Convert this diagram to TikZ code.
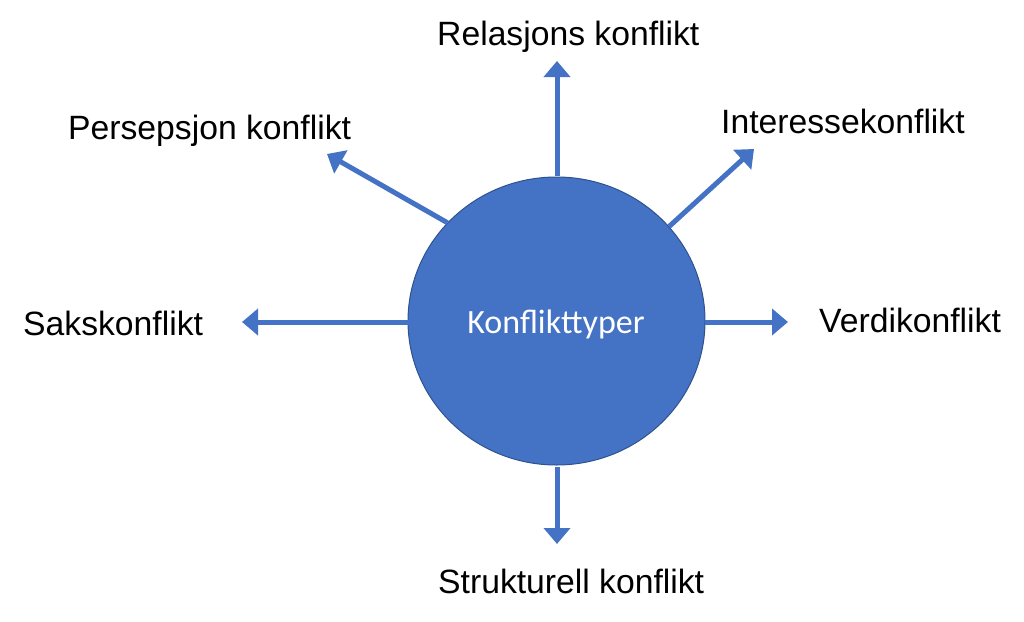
\documentclass[tikz,border=0pt]{standalone}
\usepackage{fontspec}
\setmainfont{Liberation Sans}
\newfontfamily\calfont{Carlito}
\usetikzlibrary{arrows.meta,shapes.geometric}
\definecolor{offblue}{HTML}{4472C4}
\definecolor{rimblue}{HTML}{2F528F}
\begin{document}
\begin{tikzpicture}[x=1pt,y=-1pt,
  lbl/.style={anchor=base west,inner sep=0pt,font=\fontsize{33.7}{40}\selectfont},
  conn/.style={draw=offblue,line width=5pt,-{Triangle[length=16pt,width=26pt]}}]
\useasboundingbox (0,0) rectangle (1024,621);
\node[ellipse,fill=offblue,draw=rimblue,line width=1pt,minimum width=297pt,minimum height=288pt,inner sep=0pt] (c) at (556.5,321) {};
\node[anchor=base,inner sep=0pt,text=white,font=\calfont\fontsize{34}{40}\selectfont] (ct) at (556,333) {Konflikttyper};
\node[lbl] (rel) at (437,45) {Relasjons konflikt};
\node[lbl] (per) at (68,139) {Persepsjon konflikt};
\node[lbl] (int) at (721,133) {Interessekonflikt};
\node[lbl] (sak) at (23,335) {Sakskonflikt};
\node[lbl] (ver) at (819,332) {Verdikonflikt};
\node[lbl] (str) at (438,593) {Strukturell konflikt};
\coordinate (tu) at (557,61);
\coordinate (tl) at (327,154);
\coordinate (tr) at (754,149);
\coordinate (tw) at (242,322);
\coordinate (te) at (788,322);
\coordinate (td) at (557,544);
\draw[conn] ([yshift=1pt]c.north -| tu) -- (tu);
\draw[conn] (c.138) -- (tl);
\draw[conn] (c.40) -- (tr);
\draw[conn] ([xshift=1pt]c.west |- tw) -- (tw);
\draw[conn] ([xshift=-1pt]c.east |- te) -- (te);
\draw[conn] ([yshift=-1pt]c.south -| td) -- (td);
\end{tikzpicture}
\end{document}
